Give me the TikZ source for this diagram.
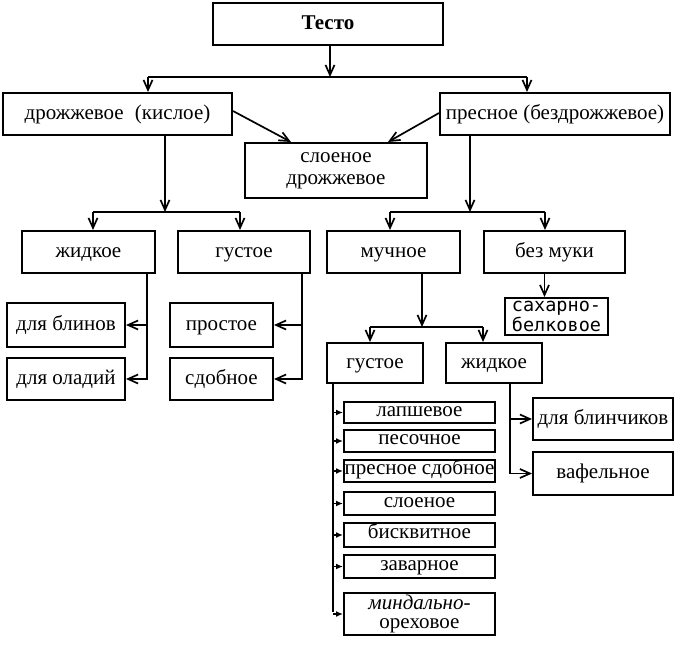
\documentclass[tikz,border=0pt]{standalone}
\usepackage{fontspec}
\setmainfont{Liberation Serif}
\newfontfamily\monofnt{DejaVu Sans Mono}
\usetikzlibrary{arrows.meta,positioning,calc}
\tikzset{arw/.style={-{Straight Barb[length=10pt,width=9pt]},line width=1.7pt}}
\tikzset{arws/.style={-{Latex[length=7pt,width=6pt]},line width=1.7pt}}
\tikzset{sz/.style 2 args={minimum width=#1pt,minimum height=#2pt}}
\tikzset{one/.style={text height=15pt,text depth=5pt}}
\tikzset{sm/.style={text height=12pt,text depth=5pt}}
\tikzstyle{box}=[draw, line width=2pt, inner sep=1pt, font=\fontsize{21}{19}\selectfont]
\tikzstyle{ln}=[line width=1.7pt]

\begin{document}
\begin{tikzpicture}[x=1pt,y=-1pt]
    \useasboundingbox (0,0) rectangle (681,645);
    % top levels
    \node [box,one,sz={230}{42}] (testo) at (328,24) {\textbf{Тесто}};
    \node [box,one,sz={229}{42}] (drozh) at (117.5,114) {дрожжевое\hspace{6pt} (кислое)};
    \node [box,one,sz={230}{42}] (presn) at (555,114) {пресное (бездрожжевое)};
    \node [box,sz={182}{55},align=center,font=\fontsize{21}{22}\selectfont] (sloen) at (336,170.5) {слоеное\\дрожжевое};
    \node [box,one,sz={133}{42}] (zhid1) at (88.5,252) {жидкое};
    \node [box,one,sz={132}{42}] (gust1) at (244,252) {густое};
    \node [box,one,sz={133}{42}] (much) at (393.5,252) {мучное};
    \node [box,one,sz={141}{42}] (bezm) at (554.5,252) {без муки};
    % yeast dough kinds
    \node [box,one,sz={118}{44}] (blin) at (66,325) {для блинов};
    \node [box,one,sz={118}{42}] (olad) at (66,379) {для оладий};
    \node [box,one,sz={103}{44}] (prost) at (221.5,325) {простое};
    \node [box,one,sz={103}{42}] (sdob) at (221.5,379) {сдобное};
    \node [box,sz={103}{37},align=left,inner sep=1pt,font=\monofnt\fontsize{18.5}{18}\selectfont] (sahar) at (556.5,316.5) {сахарно-\\белковое};
    \node [box,one,sz={96}{40}] (gust2) at (375,363) {густое};
    \node [box,one,sz={96}{40}] (zhid2) at (494,363) {жидкое};
    \node [box,one,sz={140}{42},inner sep=0pt] (blinch) at (603,419) {для блинчиков};
    \node [box,one,sz={140}{43}] (vaf) at (603,473.5) {вафельное};
    % flour dough kinds
    \node [box,sm,sz={151}{21}] (lap) at (419.5,412.5) {лапшевое};
    \node [box,sm,sz={151}{22}] (pes) at (419.5,441) {песочное};
    \node [box,sm,sz={151}{22},inner sep=0pt] (prs) at (419.5,471) {пресное сдобное};
    \node [box,sm,sz={151}{23}] (slo) at (419.5,503.5) {слоеное};
    \node [box,sm,sz={151}{24}] (bis) at (419.5,535) {бисквитное};
    \node [box,sm,sz={151}{23}] (zav) at (419.5,566.5) {заварное};
    \node [box,sz={151}{42},align=center] (mind) at (419.5,614) {\textit{миндально-}\\ореховое};

    \coordinate (j1) at (330,77);
    \coordinate (l1) at (148,77);
    \coordinate (r1) at (527,77);
    \draw[arw] (j1 |- testo.south) -- (j1);
    \draw[ln] (l1) -- (r1);
    \draw[arw] (l1) -- (l1 |- drozh.north);
    \draw[arw] (r1) -- (r1 |- presn.north);
    \draw[arw] ([yshift=3pt]drozh.east) -- ([xshift=47pt]sloen.north west);
    \draw[arw] ([yshift=1pt]presn.west) -- ([xshift=-40pt]sloen.north east);

    \coordinate (m2) at (165,212);
    \coordinate (l2) at (93,212);
    \coordinate (r2) at (240,212);
    \draw[arw] (m2 |- drozh.south) -- (m2);
    \draw[ln] (l2) -- (r2);
    \draw[arw] (l2) -- (l2 |- zhid1.north);
    \draw[arw] (r2) -- (r2 |- gust1.north);

    \coordinate (m3) at (470,212);
    \coordinate (l3) at (390,212);
    \coordinate (r3) at (545,212);
    \draw[arw] (m3 |- presn.south) -- (m3);
    \draw[ln] (l3) -- (r3);
    \draw[arw] (l3) -- (l3 |- much.north);
    \draw[arw] (r3) -- (r3 |- bezm.north);

    \coordinate (v1) at (147,379);
    \draw[arw] (v1 |- zhid1.south) -- (v1) -- (olad.east);
    \draw[arw] (v1 |- blin.east) -- (blin.east);
    \coordinate (v2) at (302,379);
    \draw[arw] (v2 |- gust1.south) -- (v2) -- (sdob.east);
    \draw[arw] (v2 |- prost.east) -- (prost.east);

    \draw[arw] ([xshift=-10pt]bezm.south) -- ([xshift=-12pt]sahar.north);

    \coordinate (m4) at (422,327);
    \coordinate (l4) at (370,327);
    \coordinate (r4) at (483,327);
    \draw[arw] (m4 |- much.south) -- (m4);
    \draw[ln] (l4) -- (r4);
    \draw[arw] (l4) -- (l4 |- gust2.north);
    \draw[arw] (r4) -- (r4 |- zhid2.north);

    \coordinate (v3) at (333,612);
    \draw[ln] (v3 |- gust2.south) -- (v3);
    \foreach \b in {lap,pes,prs,slo,bis,zav,mind}
        \draw[arws] (v3 |- \b.west) -- (\b.west);

    \coordinate (v4) at (510,474);
    \draw[arw] (v4 |- zhid2.south) -- (v4 |- vaf.west) -- (vaf.west);
    \draw[arw] (v4 |- blinch.west) -- (blinch.west);
\end{tikzpicture}
\end{document}
